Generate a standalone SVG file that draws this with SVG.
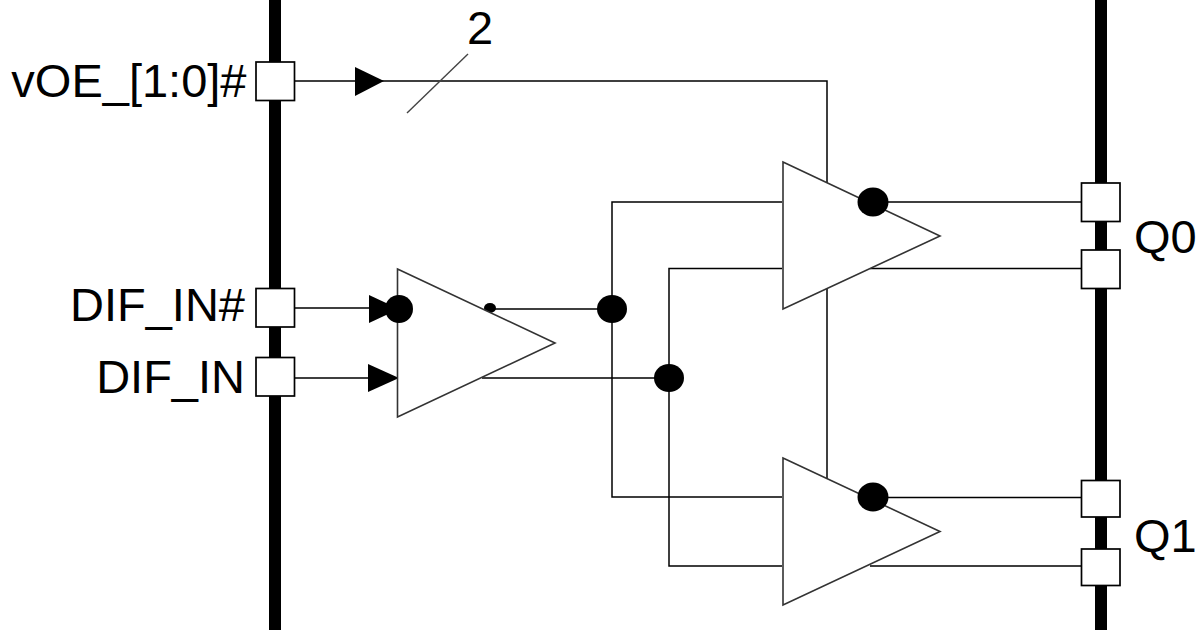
<svg xmlns="http://www.w3.org/2000/svg" width="1200" height="630" viewBox="0 0 1200 630">
<style>
.w{fill:none;stroke:#000;stroke-width:1.5}
.bar{fill:none;stroke:#000;stroke-width:12}
.pin{fill:#fff;stroke:#000;stroke-width:1.7}
.tri{fill:#fff;stroke:#333;stroke-width:1.6}
.t{font-family:"Liberation Sans",Arial,sans-serif;font-size:47px;fill:#000}
</style>
<rect width="1200" height="630" fill="#fff"/>
<g id="rails"><path class="bar" d="M275 0V630M1101 0V630"/></g>
<g id="connectors">
<path class="w" d="M295 81H827V183"/>
<path class="w" d="M827 288V480"/>
<path d="M407 113L468 54" fill="none" stroke="#444" stroke-width="1.4"/>
<path class="w" d="M295 308H398M295 378H398"/>
<path class="w" d="M490 309H612M482 378H669"/>
<path class="w" d="M782 202H612V497H782"/>
<path class="w" d="M782 268.500H669V566H782"/>
<path class="w" d="M873 202H1082M870 268.500H1082"/>
<path class="w" d="M873 497.500H1082M870 566H1082"/>
<path d="M355 67L384 81L355 96Z"/>
<path d="M369 295L399 309L369 323Z"/>
<path d="M368 364L399 378L368 392Z"/>
</g>
<g id="buffer-in"><ellipse cx="490" cy="308" rx="6" ry="5"/><path class="tri" d="M397.500 269L555 343L397.500 417Z"/><ellipse cx="399" cy="309" rx="14" ry="14"/></g>
<g id="buffer-q0"><path class="tri" d="M783 162L940 236L783 309Z"/><ellipse cx="873" cy="202" rx="15.500" ry="14.500"/></g>
<g id="buffer-q1"><path class="tri" d="M783 458L940 531.500L783 605Z"/><ellipse cx="873" cy="497" rx="15.500" ry="14.500"/></g>
<g id="junctions"><ellipse cx="612" cy="309" rx="15" ry="14"/><ellipse cx="669" cy="378" rx="15" ry="14"/></g>
<g id="pin-oe"><rect class="pin" x="256" y="62" width="38.500" height="38.500"/><text class="t" x="246.500" y="97" text-anchor="end">vOE_[1:0]#</text></g>
<g id="pin-difn"><rect class="pin" x="256" y="288.500" width="38.500" height="38.500"/><text class="t" x="245" y="321" text-anchor="end">DIF_IN#</text></g>
<g id="pin-dif"><rect class="pin" x="256" y="357.500" width="38.500" height="38.500"/><text class="t" x="245" y="392.500" text-anchor="end">DIF_IN</text></g>
<g id="pin-q0a"><rect class="pin" x="1081.500" y="183" width="38.500" height="38.500"/></g>
<g id="pin-q0b"><rect class="pin" x="1081.500" y="250" width="38.500" height="38.500"/></g>
<g id="pin-q1a"><rect class="pin" x="1081.500" y="480.500" width="38.500" height="36.500"/></g>
<g id="pin-q1b"><rect class="pin" x="1081.500" y="549" width="38.500" height="36.500"/></g>
<g id="labels">
<text class="t" x="1134" y="253">Q0</text>
<text class="t" x="1134" y="552">Q1</text>
<text class="t" x="467" y="43.500">2</text>
</g>
</svg>
